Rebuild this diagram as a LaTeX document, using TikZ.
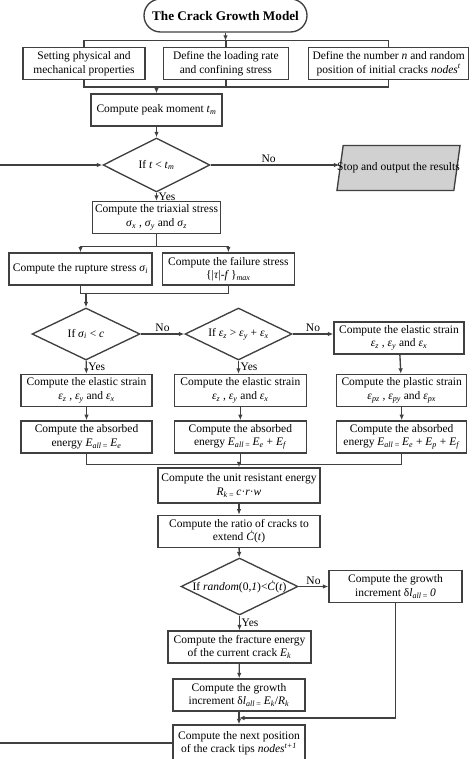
\documentclass[tikz,border=0pt]{standalone}
\usepackage{fontspec}
\setmainfont{Liberation Serif}
\usepackage{tikz}
\usetikzlibrary{shapes,arrows,arrows.meta,positioning,calc}

\newcommand{\subit}[1]{\textsubscript{\textit{#1}}}
\newcommand{\supit}[1]{\textsuperscript{\textit{#1}}}

\begin{document}
\begin{tikzpicture}[x=1pt, y=-1pt, node distance=13pt,
    font=\fontsize{11.5}{13.5}\selectfont,
    color=black!75, line width=1.35pt, >={Latex[length=5.5pt,width=4.5pt]},
    every node/.style={text=black},
    box/.style={draw, align=center, minimum height=32pt, inner sep=1.5pt},
    dia/.style={draw, diamond, inner sep=0pt},
    io/.style={draw, trapezium, trapezium left angle=70, trapezium right angle=110,
        trapezium stretches=true, fill=black!18, minimum height=45pt, inner xsep=-6pt},
    lab/.style={inner sep=1.5pt}]
    \useasboundingbox (0,0) rectangle (474,759);

    \node[draw, rounded corners=16.5pt, minimum width=163pt, minimum height=33pt,
        font=\fontsize{13.2}{15}\selectfont\bfseries] (model) at (225.5,15.5) {The Crack Growth Model};

    \node[box, minimum width=122pt] (props) at (84,63.5) {Setting physical and\\mechanical properties};
    \node[box, minimum width=125pt, right=17pt of props] (rate) {Define the loading rate\\and confining stress};
    \node[box, minimum width=160pt, right=19pt of rate] (cracks) {Define the number \textit{n} and random\\position of initial cracks \textit{nodes}\supit{t}};

    \node[box, minimum width=131pt] (peak) at (156.5,110) {Compute peak moment \textit{t}\subit{m}};
    \node[dia, minimum width=107pt, minimum height=54pt, label=center:{If \textit{t} < \textit{t}\subit{m}}] (ifpeak) at (156.5,165) {};
    \node[io] (stop) at (398.5,168) {Stop and output the results};

    \node[box, minimum width=128pt] (triax) at (156.5,217.5) {Compute the triaxial stress\\\textit{σ}\subit{x} , \textit{σ}\subit{y} and \textit{σ}\subit{z}};
    \node[box, minimum width=143pt] (rupture) at (80.5,269) {Compute the rupture stress \textit{σ}\subit{i}};
    \node[box, minimum width=132pt, right=9pt of rupture] (failure) {Compute the failure stress\\\{|\textit{τ}|-\textit{f}\,\}\subit{max}};

    \node[dia, minimum width=108pt, minimum height=52pt, label=center:{If \textit{σ}\subit{i} < \textit{c}}] (ifrupt) at (86,334) {};
    \node[dia, minimum width=107pt, minimum height=52pt, label=center:{If \textit{ε}\subit{z} > \textit{ε}\subit{y} + \textit{ε}\subit{x}}] (ifstrain) at (238.5,334) {};
    \node[box, minimum width=130pt] (elastC) at (399,338) {Compute the elastic strain\\\textit{ε}\subit{z} , \textit{ε}\subit{y} and \textit{ε}\subit{x}};

    \node[box, minimum width=131pt] (elastA) at (86.5,390.5) {Compute the elastic strain\\\textit{ε}\subit{z} , \textit{ε}\subit{y} and \textit{ε}\subit{x}};
    \node[box, minimum width=132pt, right=21pt of elastA] (elastB) {Compute the elastic strain\\\textit{ε}\subit{z} , \textit{ε}\subit{y} and \textit{ε}\subit{x}};
    \node[box, minimum width=130pt, right=29pt of elastB] (plastC) {Compute the plastic strain\\\textit{ε}\subit{pz} , \textit{ε}\subit{py} and \textit{ε}\subit{px}};

    \node[box, minimum width=131pt, below=of elastA] (energyA) {Compute the absorbed\\energy \textit{E}\subit{all\,=}\,\textit{E}\subit{e}};
    \node[box, minimum width=132pt, below=of elastB] (energyB) {Compute the absorbed\\energy \textit{E}\subit{all\,=}\,\textit{E}\subit{e} + \textit{E}\subit{f}};
    \node[box, minimum width=130pt, below=of plastC] (energyC) {Compute the absorbed\\energy \textit{E}\subit{all\,=}\,\textit{E}\subit{e} + \textit{E}\subit{p} + \textit{E}\subit{f}};

    \node[box, minimum width=162pt, minimum height=35pt] (unit) at (239,485.5) {Compute the unit resistant energy\\\textit{R}\subit{k\,=}\,\textit{c}·\textit{r}·\textit{w}};
    \node[box, minimum width=162pt, below=11pt of unit] (ratio) {Compute the ratio of cracks to\\extend \textit{Ċ}(\textit{t})};
    \node[dia, minimum width=117pt, minimum height=57pt, label=center:{If \textit{random}(0,\textit{1})<\textit{Ċ}(\textit{t})}] (ifcrack) at (239.5,586.5) {};
    \node[box, minimum width=133pt] (grow0) at (395.5,586.5) {Compute the growth\\increment δ\textit{l}\subit{all\,=}\,\textit{0}};

    \node[box, minimum width=143pt] (fracture) at (239.5,647) {Compute the fracture energy\\of the current crack \textit{E}\subit{k}};
    \node[box, minimum width=132pt] (grow) at (239,695) {Compute the growth\\increment δ\textit{l}\subit{all\,=}\,\textit{E}\subit{k}/\textit{R}\subit{k}};
    \node[box, minimum width=132pt, minimum height=36pt] (next) at (239,743) {Compute the next position\\of the crack tips \textit{nodes}\supit{t+1}};

    \coordinate (topbus) at ($(rate.north)+(0,-6)$);
    \draw (props.north) |- (topbus) -| (cracks.north);
    \draw (rate.north) -- (topbus);
    \draw[->] (model.south) -- (model.south |- topbus);
    \coordinate (botbus) at ($(props.south)+(0,7)$);
    \draw (props.south) |- (botbus) -| (cracks.south);
    \draw (rate.south) -- (rate.south |- botbus);
    \draw[->] (peak.north |- botbus) -- (peak.north);

    \draw[->] (peak) -- (ifpeak);
    \draw[->] (ifpeak.east) -- node[lab, above, pos=0.45] {No} (stop.west |- ifpeak.east);
    \draw[->] (ifpeak) -- node[lab, right] {Yes} (triax);

    \coordinate (splitT) at ($(triax.south)+(0,12)$);
    \draw (triax.south) -- (splitT);
    \draw[->] (splitT) -| (rupture.north);
    \draw[->] (splitT) -| (failure.north);
    \coordinate (joinRF) at ($(rupture.south)+(0,8)$);
    \draw (rupture.south) -- (joinRF) -| (failure.south);
    \draw[->] (ifrupt.north |- joinRF) -- (ifrupt.north);

    \draw[->] (ifrupt) -- node[lab, above] {No} (ifstrain);
    \draw[->] (ifstrain.east) -- node[lab, above] {No} (ifstrain.east -| elastC.west);
    \draw[->] (ifrupt) -- node[lab, right] {Yes} (elastA);
    \draw[->] (ifstrain.south) -- node[lab, right] {Yes} (ifstrain.south |- elastB.north);
    \draw[->] (elastC) -- (plastC);
    \draw[->] (elastA) -- (energyA);
    \draw[->] (elastB) -- (energyB);
    \draw[->] (plastC) -- (energyC);

    \coordinate (joinE) at ($(energyA.south)+(0,11)$);
    \draw (energyA.south) -- (joinE) -| (energyC.south);
    \draw (energyB.south) -- (energyB.south |- joinE);
    \draw[->] (unit.north |- joinE) -- (unit.north);

    \draw[->] (unit) -- (ratio);
    \draw[->] (ratio) -- (ifcrack);
    \draw[->] (ifcrack) -- node[lab, above] {No} (grow0);
    \draw[->] (ifcrack) -- node[lab, right] {Yes} (fracture);
    \draw[->] (fracture) -- (grow);
    \draw[->] (grow) -- (next);
    \coordinate (joinG) at ($(grow.south)!0.5!(next.north)$);
    \draw[->] (grow0.south) |- (joinG);

    \coordinate (back) at (-0.6,743);
    \draw[->] (next.west) -- (back) |- (ifpeak.west);
\end{tikzpicture}
\end{document}
